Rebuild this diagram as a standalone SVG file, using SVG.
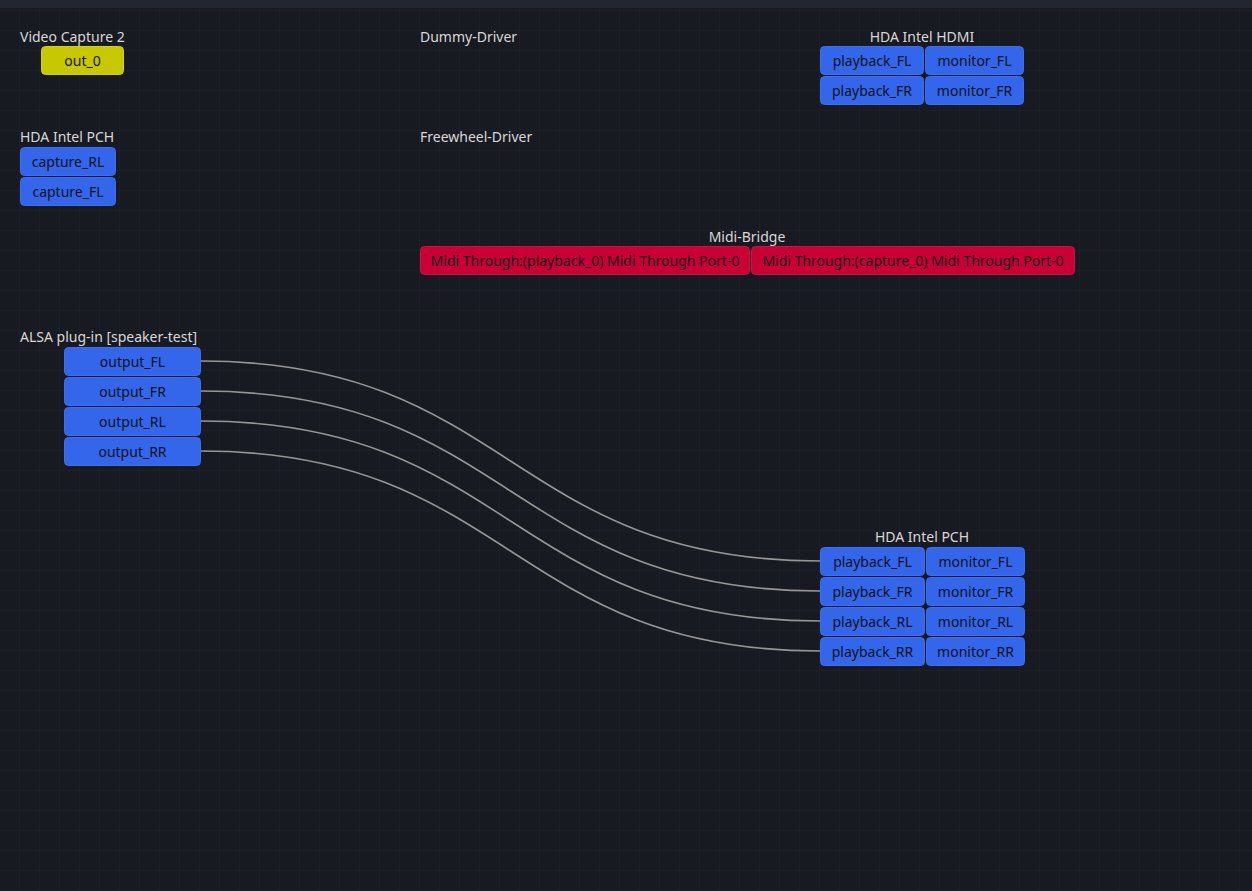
<svg xmlns="http://www.w3.org/2000/svg" width="1252" height="891" viewBox="0 0 1252 891">
<defs>
<pattern id="grid" x="0" y="10" width="20" height="20" patternUnits="userSpaceOnUse">
<path d="M19.5 0V20M0 0.5H20" stroke="#1d1f26" stroke-width="1" fill="none"/>
</pattern>
</defs>
<style>
.title{font-family:"Noto Sans","Open Sans",sans-serif;font-size:14px;fill:#d8d8d8}
.lbl{font-family:"Noto Sans","Open Sans",sans-serif;font-size:14px;fill:#111318;text-anchor:middle;dominant-baseline:central}
.blue{fill:#3366ea;stroke:#3f6ff0;stroke-width:1}
.yel{fill:#c8c800;stroke:#d2d210;stroke-width:1}
.red{fill:#c80036;stroke:#d0103f;stroke-width:1}
.wire{fill:none;stroke:#969696;stroke-width:1.6}
</style>
<rect width="1252" height="891" fill="#181a21"/>
<rect width="1252" height="891" fill="url(#grid)"/>
<rect width="1252" height="8" fill="#22262f"/>

<g id="video-capture-2">
<text class="title" x="20" y="42">Video Capture 2</text>
<rect class="yel" x="41.5" y="46.5" width="82" height="28" rx="4"/>
<text class="lbl" x="82.5" y="60">out_0</text>
</g>

<g id="dummy-driver">
<text class="title" x="420" y="42">Dummy-Driver</text>
</g>

<g id="hda-intel-hdmi">
<text class="title" x="922" y="42" text-anchor="middle">HDA Intel HDMI</text>
<rect class="blue" x="820.5" y="46.5" width="103" height="28" rx="4"/>
<text class="lbl" x="872" y="60">playback_FL</text>
<rect class="blue" x="925.5" y="46.5" width="98" height="28" rx="4"/>
<text class="lbl" x="974.5" y="60">monitor_FL</text>
<rect class="blue" x="820.5" y="76.5" width="103" height="28" rx="4"/>
<text class="lbl" x="872" y="90">playback_FR</text>
<rect class="blue" x="925.5" y="76.5" width="98" height="28" rx="4"/>
<text class="lbl" x="974.5" y="90">monitor_FR</text>
</g>

<g id="hda-intel-pch-capture">
<text class="title" x="20" y="142">HDA Intel PCH</text>
<rect class="blue" x="20.5" y="147.5" width="95" height="28" rx="4"/>
<text class="lbl" x="68" y="161">capture_RL</text>
<rect class="blue" x="20.5" y="177.5" width="95" height="28" rx="4"/>
<text class="lbl" x="68" y="191">capture_FL</text>
</g>

<g id="freewheel-driver">
<text class="title" x="420" y="142">Freewheel-Driver</text>
</g>

<g id="midi-bridge">
<text class="title" x="747" y="242" text-anchor="middle">Midi-Bridge</text>
<rect class="red" x="420.5" y="246.5" width="329" height="28" rx="4"/>
<text class="lbl" x="585" y="260">Midi Through:(playback_0) Midi Through Port-0</text>
<rect class="red" x="751.5" y="246.5" width="323" height="28" rx="4"/>
<text class="lbl" x="913" y="260">Midi Through:(capture_0) Midi Through Port-0</text>
</g>

<g id="alsa-speaker-test">
<text class="title" x="20" y="342">ALSA plug-in [speaker-test]</text>
<rect class="blue" x="64.5" y="347.5" width="136" height="28" rx="4"/>
<text class="lbl" x="132.5" y="361">output_FL</text>
<rect class="blue" x="64.5" y="377.5" width="136" height="28" rx="4"/>
<text class="lbl" x="132.5" y="391">output_FR</text>
<rect class="blue" x="64.5" y="407.5" width="136" height="28" rx="4"/>
<text class="lbl" x="132.5" y="421">output_RL</text>
<rect class="blue" x="64.5" y="437.5" width="136" height="28" rx="4"/>
<text class="lbl" x="132.5" y="451">output_RR</text>
</g>

<g id="hda-intel-pch-playback">
<text class="title" x="922" y="542" text-anchor="middle">HDA Intel PCH</text>
<rect class="blue" x="820.5" y="547.5" width="104" height="28" rx="4"/>
<text class="lbl" x="872.5" y="561">playback_FL</text>
<rect class="blue" x="926.5" y="547.5" width="98" height="28" rx="4"/>
<text class="lbl" x="975.5" y="561">monitor_FL</text>
<rect class="blue" x="820.5" y="577.5" width="104" height="28" rx="4"/>
<text class="lbl" x="872.5" y="591">playback_FR</text>
<rect class="blue" x="926.5" y="577.5" width="98" height="28" rx="4"/>
<text class="lbl" x="975.5" y="591">monitor_FR</text>
<rect class="blue" x="820.5" y="607.5" width="104" height="28" rx="4"/>
<text class="lbl" x="872.5" y="621">playback_RL</text>
<rect class="blue" x="926.5" y="607.5" width="98" height="28" rx="4"/>
<text class="lbl" x="975.5" y="621">monitor_RL</text>
<rect class="blue" x="820.5" y="637.5" width="104" height="28" rx="4"/>
<text class="lbl" x="872.5" y="651">playback_RR</text>
<rect class="blue" x="926.5" y="637.5" width="98" height="28" rx="4"/>
<text class="lbl" x="975.5" y="651">monitor_RR</text>
</g>

<g id="connectors">
<path class="wire" d="M201 361C510 361 511 561 820 561"/>
<path class="wire" d="M201 391C510 391 511 591 820 591"/>
<path class="wire" d="M201 421C510 421 511 621 820 621"/>
<path class="wire" d="M201 451C510 451 511 651 820 651"/>
</g>
</svg>
